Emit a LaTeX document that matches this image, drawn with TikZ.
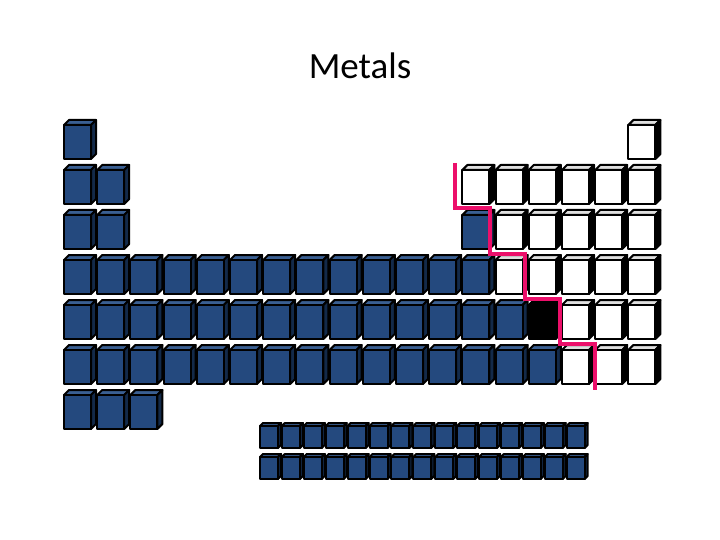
\documentclass[tikz,border=0pt]{standalone}
\usepackage{fontspec}
\setmainfont{Carlito}
\definecolor{cb}{HTML}{24497E}
\definecolor{cbtop}{HTML}{3A5F92}
\definecolor{cbside}{HTML}{132A4A}
\definecolor{mag}{HTML}{EC0F6A}
% #1 x, #2 y, #3 type (b/w/k), #4 w, #5 h, #6 d
\newcommand\mycube[6]{%
  \if#3b\def\cf{cb}\def\ct{cbtop}\def\cs{cbside}\fi
  \if#3w\def\cf{white}\def\ct{gray!25}\def\cs{black}\fi
  \if#3k\def\cf{black}\def\ct{black}\def\cs{black}\fi
  \draw[cubeline,fill=\ct] (#1,#2+#6) -- (#1+#6,#2) -- (#1+#4+#6,#2) -- (#1+#4,#2+#6) -- cycle;
  \draw[cubeline,fill=\cs] (#1+#4,#2+#6) -- (#1+#4+#6,#2) -- (#1+#4+#6,#2+#5) -- (#1+#4,#2+#5+#6) -- cycle;
  \draw[cubeline,fill=\cf] (#1,#2+#6) rectangle (#1+#4,#2+#6+#5);
}
\begin{document}
\begin{tikzpicture}[x=1pt,y=-1pt,cubeline/.style={draw=black,line width=2pt,line join=round}]
\useasboundingbox (0,0) rectangle (720,540);
\node[font=\fontsize{37}{44}\selectfont] (title) at (360,66) {Metals};
\foreach \r/\a/\b/\t in {1/1/1/b,1/18/18/w,2/1/2/b,2/13/18/w,3/1/2/b,3/13/13/b,3/14/18/w,
  4/1/13/b,4/14/18/w,5/1/14/b,5/15/15/k,5/16/18/w,6/1/15/b,6/16/18/w,7/1/3/b}{
  \foreach \c in {\a,...,\b}{
    \pgfmathsetmacro\xx{64+33.2*(\c-1)}
    \pgfmathsetmacro\yy{120+45*(\r-1)}
    \mycube{\xx}{\yy}{\t}{27}{34}{5}
  }
}
\foreach \r in {0,1}{
  \foreach \c in {1,...,15}{
    \pgfmathsetmacro\xx{260+21.9*(\c-1)}
    \pgfmathsetmacro\yy{423+31*\r}
    \mycube{\xx}{\yy}{b}{18}{22}{3}
  }
}
\coordinate (s0) at (455,163);
\coordinate (s1) at (595,390);
\draw[mag,line width=4.5pt] (s0) -- ++(0,45) -- ++(35,0) -- ++(0,46) -- ++(35,0) -- ++(0,45) -- ++(35,0) -- ++(0,45) -- ++(35,0) -- (s1);
\end{tikzpicture}
\end{document}
